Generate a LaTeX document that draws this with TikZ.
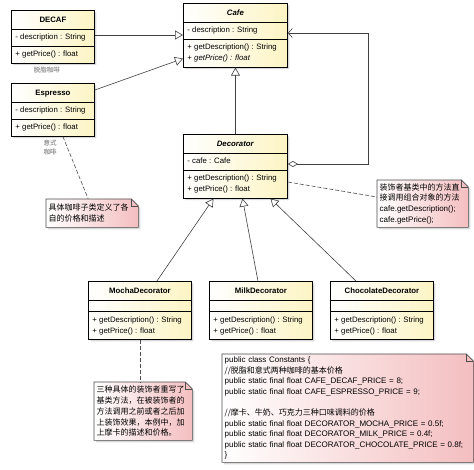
\documentclass[tikz,border=0pt]{standalone}
\usepackage{fontspec}
\setmainfont{Liberation Sans}
\newfontfamily\cjk{Noto Sans CJK SC}
\usetikzlibrary{shapes.multipart,arrows.meta,shadows,backgrounds}

\definecolor{classyellow}{RGB}{252,244,196}
\definecolor{notepink}{RGB}{244,190,192}
\definecolor{labelgray}{RGB}{105,105,105}

\newcommand{\classname}[1]{\rule[-4pt]{0pt}{13pt}\textbf{#1}}

\tikzset{
  umlclass/.style={rectangle split, rectangle split parts=3, draw=black, line width=0.9pt,
    anchor=north west, left color=white, right color=classyellow, minimum width=#1,
    inner xsep=4pt, inner ysep=2.5pt, align=left, rectangle split part align={center,left,left},
    font=\fontsize{7.8}{11}\selectfont,
    drop shadow={shadow xshift=2pt, shadow yshift=-2pt, opacity=0.3}},
  notebox/.style={anchor=north west, inner xsep=2.5pt, inner ysep=2pt, align=left,
    text width=#1, font=\cjk\fontsize{8}{10.8}\selectfont},
  notefill/.style={draw=black!70, line width=0.6pt, left color=white, right color=notepink,
    drop shadow={shadow xshift=2pt, shadow yshift=-2pt, opacity=0.3}},
  inherit/.style={draw=black!75, line width=0.6pt, -{Triangle[open, length=8pt, width=9pt]}},
  aggr/.style={draw=black!75, line width=0.6pt,
    {Diamond[open, length=10pt, width=6pt]}-{Straight Barb[length=4pt, width=9pt]}},
  anchorline/.style={draw=black!70, line width=0.6pt, dash pattern=on 4pt off 2pt},
  caption/.style={font=\cjk\fontsize{6.5}{9}\selectfont, text=labelgray, align=center}
}

\begin{document}
\begin{tikzpicture}[x=1pt, y=-1pt]
\useasboundingbox (0,0) rectangle (474,470);

% concrete coffees
\node[umlclass=83pt] (DECAF) at (11,10) {\classname{DECAF}
  \nodepart{two}\strut - description : String
  \nodepart{three}\strut + getPrice() : float};
\node[caption] (decaflabel) at (47,70) {脱脂咖啡};
\node[umlclass=83pt] (Espresso) at (11,83) {\classname{Espresso}
  \nodepart{two}\strut - description : String
  \nodepart{three}\strut + getPrice() : float};
\node[caption] (espressolabel) at (50,148) {意式\\咖啡};

% base class and decorator
\node[umlclass=104pt] (Cafe) at (183,3) {\classname{\textit{Cafe}}
  \nodepart{two}\strut - description : String
  \nodepart{three}\strut + getDescription() : String\\\strut + \textit{getPrice() : float}};
\node[umlclass=104pt] (Decorator) at (183,134) {\classname{\textit{Decorator}}
  \nodepart{two}\strut - cafe : Cafe
  \nodepart{three}\strut + getDescription() : String\\\strut + getPrice() : float};

% concrete decorators
\node[umlclass=103pt] (Mocha) at (88,281) {\classname{MochaDecorator}
  \nodepart{two}
  \nodepart{three}\strut + getDescription() : String\\\strut + getPrice() : float};
\node[umlclass=103pt] (Milk) at (209,281) {\classname{MilkDecorator}
  \nodepart{two}
  \nodepart{three}\strut + getDescription() : String\\\strut + getPrice() : float};
\node[umlclass=103pt] (Chocolate) at (330,281) {\classname{ChocolateDecorator}
  \nodepart{two}
  \nodepart{three}\strut + getDescription() : String\\\strut + getPrice() : float};

% notes
\node[notebox=87pt, minimum height=28pt] (esnote) at (46,199)
  {具体咖啡子类定义了各\\自的价格和描述};
\node[notebox=86pt, minimum height=47pt] (decnote) at (377,180)
  {装饰者基类中的方法直\\接调用组合对象的方法\\\rmfamily cafe.getDescription();\\\rmfamily cafe.getPrice();};
\node[notebox=93pt, minimum height=58pt] (mochanote) at (94,382)
  {三种具体的装饰者重写了\\基类方法，在被装饰者的\\方法调用之前或者之后加\\上装饰效果，本例中，加\\上摩卡的描述和价格。};
\node[notebox=246pt, minimum height=108pt, font=\fontsize{8}{10.6}\selectfont] (constnote) at (222,354)
  {public class Constants \{\\
  {\cjk //脱脂和意式两种咖啡的基本价格}\\
  public static final float CAFE\_DECAF\_PRICE = 8;\\
  public static final float CAFE\_ESPRESSO\_PRICE = 9;\\
  \mbox{}\\
  {\cjk //摩卡、牛奶、巧克力三种口味调料的价格}\\
  public static final float DECORATOR\_MOCHA\_PRICE = 0.5f;\\
  public static final float DECORATOR\_MILK\_PRICE = 0.4f;\\
  public static final float DECORATOR\_CHOCOLATE\_PRICE = 0.8f;\\
  \}};

\begin{scope}[on background layer]
\foreach \n in {esnote,decnote,mochanote,constnote}
  \shade[notefill] (\n.south west) -- (\n.north west) -- ([xshift=-7pt]\n.north east)
    -- ([yshift=-7pt]\n.north east) -- (\n.south east) -- cycle;
\end{scope}
\foreach \n in {esnote,decnote,mochanote,constnote}
  \draw[draw=black!70, line width=0.6pt] ([xshift=-7pt]\n.north east) |- ([yshift=-7pt]\n.north east);

% generalisations
\draw[inherit] ([yshift=-25pt]DECAF.north east) coordinate (d1) -- (d1 -| Cafe.west);
\draw[inherit] ([yshift=-7pt]Espresso.north east) -- ([yshift=9pt]Cafe.south west);
\draw[inherit] (Decorator.north) -- (Cafe.south);
\draw[inherit] ([xshift=17pt]Mocha.north) -- ([xshift=-22pt]Decorator.south);
\draw[inherit] ([xshift=-3pt]Milk.north) -- ([xshift=7pt]Decorator.south);
\draw[inherit] ([xshift=-26pt]Chocolate.north) -- ([xshift=35pt]Decorator.south);

% decorator holds a cafe
\draw[aggr] ([yshift=-30pt]Decorator.north east) -- ++(80,0) |- ([yshift=-30pt]Cafe.north east);

% note anchors
\draw[anchorline] ([xshift=10pt]Espresso.south) -- ([xshift=-4pt]esnote.north);
\draw[anchorline] ([yshift=-48pt]Decorator.north east) -- ([yshift=-17pt]decnote.north west);
\draw[anchorline] (Mocha.south) -- (Mocha.south |- mochanote.north);
\end{tikzpicture}
\end{document}
